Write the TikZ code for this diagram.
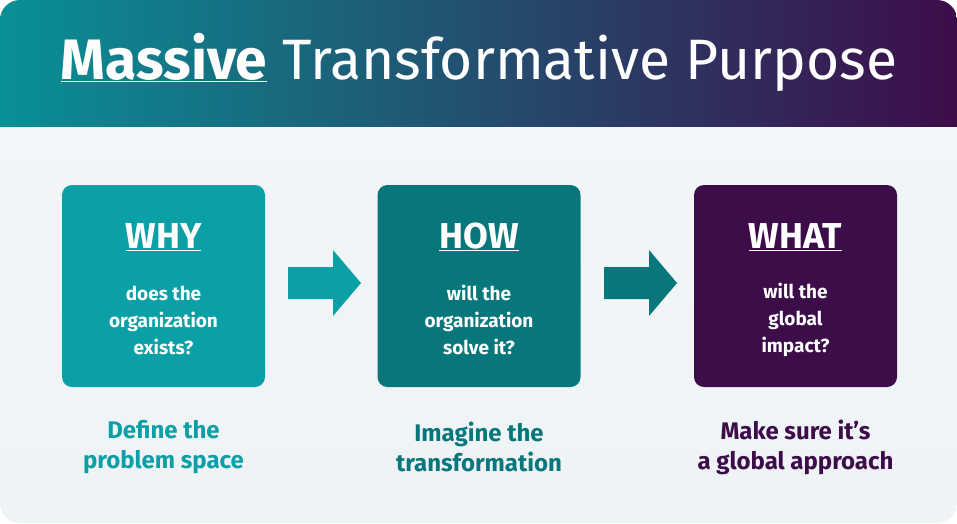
\documentclass[tikz,border=0pt]{standalone}
\usepackage{fontspec}
\setmainfont{Fira Sans}
\definecolor{tealA}{HTML}{0AA0A5}
\definecolor{tealB}{HTML}{08777B}
\definecolor{purp}{HTML}{3D0D4A}
\definecolor{bgc}{HTML}{EEF3F6}
\tikzset{
  card/.style={draw=none,rounded corners=10pt,minimum width=203pt,minimum height=202pt,inner sep=0pt},
  captext/.style={font=\bfseries\fontsize{24}{30}\selectfont,align=center},
  body/.style={text=white,font=\bfseries\fontsize{19}{27}\selectfont,align=center},
  head/.style={text=white,font=\bfseries\fontsize{36}{40}\selectfont}
}
\newcommand\blockarrow[2]{\fill[#2,shift={(#1)}] (0,-16) -- (45,-16) -- (45,-33) -- (73,0) -- (45,33) -- (45,16) -- (0,16) -- cycle;}
\begin{document}
\begin{tikzpicture}[x=1pt,y=-1pt]
\useasboundingbox (0,0) rectangle (957,523);
\begin{scope}
\clip[rounded corners=20pt] (0,0) rectangle (957,523);
\shade[top color=bgc!70!white,bottom color=bgc] (0,0) rectangle (957,523);
\shade[left color=tealA!90!black,right color=purp] (0,0) rectangle (957,126);
\end{scope}
\node[text=white,font=\fontsize{57}{60}\selectfont,anchor=center] (title) at (479,62)
  {\underline{\textbf{Massive}} Transformative Purpose};
\node[card,fill=tealA] (why) at (163.5,286) {};
\node[card,fill=tealB] (how) at (479,286) {};
\node[card,fill=purp] (what) at (795.5,286) {};
\node[head] (h1) at (163.5,237) {\underline{WHY}};
\node[head] (h2) at (479,237) {\underline{HOW}};
\node[head] (h3) at (795.5,237) {\underline{WHAT}};
\node[body] (b1) at (163.5,320) {does the\\organization\\exists?};
\node[body] (b2) at (479,320) {will the\\organization\\solve it?};
\node[body] (b3) at (795.5,320) {will the\\global\\impact?};
\coordinate (a1) at (288,283);
\coordinate (a2) at (604,283);
\blockarrow{a1}{tealA}
\blockarrow{a2}{tealB}
\node[captext,text=tealA] (c1) at (163.5,447) {Define the\\problem space};
\node[captext,text=tealB] (c2) at (479,447) {Imagine the\\transformation};
\node[captext,text=purp] (c3) at (795.5,447) {Make sure it’s\\a global approach};
\end{tikzpicture}
\end{document}
